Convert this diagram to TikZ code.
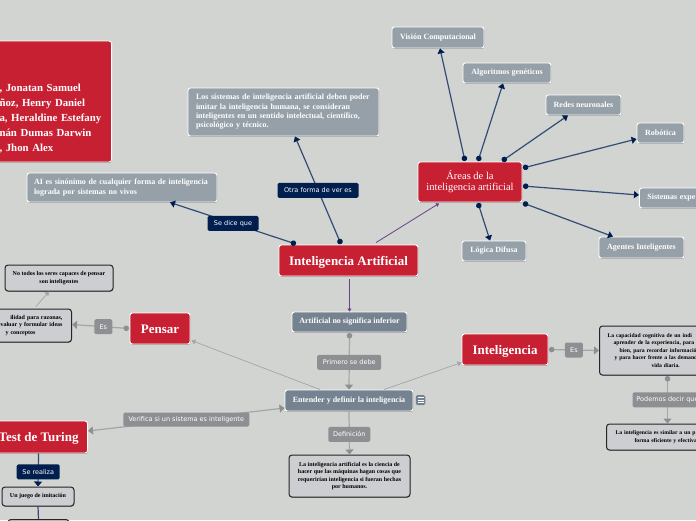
\documentclass[tikz,border=0pt]{standalone}
\usepackage{fontspec}
\setmainfont{Liberation Serif}
\newfontfamily\tagfont{DejaVu Sans}
\usetikzlibrary{arrows.meta,shadows}
\definecolor{paper}{HTML}{D2D4D1}
\definecolor{redbox}{HTML}{C82033}
\definecolor{slate}{HTML}{96A0A8}
\definecolor{slatedark}{HTML}{74838F}
\definecolor{tagnavy}{HTML}{001F4F}
\definecolor{taggrey}{HTML}{8E8F93}
\definecolor{notefill}{HTML}{CDCED1}
\definecolor{linknavy}{HTML}{334C75}
\definecolor{linkgrey}{HTML}{A3A5A6}
\definecolor{linkpurple}{HTML}{6A3F8C}
\tikzset{
  boxbase/.style={draw=white, line width=0.9pt, rounded corners=2.5pt, inner sep=0pt,
    drop shadow={shadow xshift=0.4pt, shadow yshift=-0.8pt, opacity=0.35, fill=black}},
  redmain/.style={boxbase, fill=redbox, text=white, align=center,
    font=\fontsize{13}{15}\selectfont\bfseries},
  redtitle/.style={redmain, text height=9pt, text depth=0pt},
  area/.style={boxbase, fill=slate, text=white, align=center,
    font=\fontsize{8}{9.3}\selectfont\bfseries},
  step2/.style={area, fill=slatedark},
  note/.style={draw=black!85, line width=1pt, fill=notefill, rounded corners=3pt, inner sep=0pt,
    text=black, align=center, font=\fontsize{6}{7.5}\selectfont\bfseries,
    drop shadow={shadow xshift=0.4pt, shadow yshift=-0.8pt, opacity=0.3, fill=black}},
  tag/.style={fill=tagnavy, rounded corners=1.5pt, inner sep=0pt, text=white, minimum height=15pt,
    font=\tagfont\fontsize{6.5}{8}\selectfont},
  greytag/.style={tag, fill=taggrey},
  navylink/.style={draw=linknavy, line width=1.2pt,
    arrows={Circle[length=5.5pt,width=5.5pt,color=tagnavy]-Triangle[length=5pt,width=7pt,color=tagnavy]}},
  greylink/.style={draw=linkgrey, line width=1.2pt,
    arrows={Circle[length=5.5pt,width=5.5pt,color=taggrey]-Triangle[length=5pt,width=8pt,color=taggrey]}},
  thinlink/.style={draw=linkgrey, line width=0.7pt, -{Triangle[length=4pt,width=5pt,color=linkgrey]}},
  purplelink/.style={draw=linkpurple, line width=0.8pt, -{Triangle[length=3pt,width=4pt]}},
}
\begin{document}
\begin{tikzpicture}[x=1pt, y=-1pt]
  \useasboundingbox (0,0) rectangle (696,520);
  \clip (0,0) rectangle (696,520);
  \fill[paper] (0,0) rectangle (696,520);

  \node[redtitle] (ia) at (348.5,260.5) [minimum width=139pt, minimum height=31pt] {Inteligencia Artificial};
  \node[redmain, font=\fontsize{10.5}{11}\selectfont] (areas) at (470,182) [minimum width=104pt, minimum height=40pt] {Áreas de la\\inteligencia artificial};
  \node[redmain, align=left, anchor=east, text width=102pt, inner xsep=10pt, font=\fontsize{10.8}{15}\selectfont\bfseries] (autores) at (112,101.5) [minimum height=121pt]
    {\mbox{}\\[11pt]\mbox{}\\, Jonatan Samuel\\ñoz, Henry Daniel\\a, Heraldine Estefany\\nán Dumas Darwin\\, Jhon Alex};
  \node[redtitle] (pensar) at (160,328.5) [minimum width=60pt, minimum height=31pt] {Pensar};
  \node[redtitle] (intel) at (505,349.5) [minimum width=86pt, minimum height=31pt] {Inteligencia};
  \node[redtitle, anchor=east] (turing) at (88,437) [minimum width=98pt, minimum height=32pt] {Test de Turing};

  \node[area] (vision) at (438,37.5) [minimum width=92pt, minimum height=21pt] {Visión Computacional};
  \node[area] (algo) at (507,73) [minimum width=88pt, minimum height=20pt] {Algoritmos genéticos};
  \node[area] (redes) at (583.5,105) [minimum width=75pt, minimum height=20pt] {Redes neuronales};
  \node[area] (robot) at (660.5,133) [minimum width=47pt, minimum height=20pt] {Robótica};
  \node[area, anchor=west, align=left, text width=92pt, inner xsep=8pt] (expert) at (639,198) [minimum height=20pt] {Sistemas expe};
  \node[area] (agentes) at (641.5,247.5) [minimum width=85pt, minimum height=21pt] {Agentes Inteligentes};
  \node[area] (logica) at (494,251) [minimum width=64pt, minimum height=20pt] {Lógica Difusa};
  \node[area, align=left, text width=175pt, inner xsep=8pt] (sistemas) at (283.5,112) [minimum height=48pt]
    {Los sistemas de inteligencia artificial deben poder\\imitar la inteligencia humana, se consideran\\inteligentes en un sentido intelectual, científico,\\psicológico y técnico.};
  \node[area, align=left, text width=176pt, inner xsep=7pt] (sinonimo) at (122,187.5) [minimum height=29pt]
    {AI es sinónimo de cualquier forma de inteligencia\\lograda por sistemas no vivos};

  \node[step2] (inferior) at (349.5,322) [minimum width=115pt, minimum height=20pt] {Artificial no significa inferior};
  \node[step2] (entender) at (349,400.5) [minimum width=128pt, minimum height=21pt] {Entender y definir la inteligencia};

  \node[note] (ciencia) at (349.5,476) [minimum width=121pt, minimum height=42pt]
    {La inteligencia artificial es la ciencia de\\hacer que las máquinas hagan cosas que\\requerirían inteligencia si fueran hechas\\por humanos.};
  \node[note, anchor=west, align=left, text width=128pt, inner xsep=4pt, font=\fontsize{5.7}{7.5}\selectfont\bfseries] (capacidad) at (599,350.5) [minimum height=49pt]
    {\hspace*{4pt}La capacidad cognitiva de un indi\\\hspace*{10pt}aprender de la experiencia, para\\\hspace*{16pt}bien, para recordar información i\\\hspace*{11pt}y para hacer frente a las demanda\\\hspace*{48pt}vida diaria.};
  \node[note, anchor=west, align=left, text width=114pt, inner xsep=4pt, font=\fontsize{5.7}{7.5}\selectfont\bfseries] (similar) at (606,437) [minimum height=26pt]
    {\hspace*{5pt}La inteligencia es similar a un p\\\hspace*{24pt}forma eficiente y efectiva};
  \node[note, anchor=east, align=right, text width=81pt, inner xsep=9pt] (habilidad) at (72,325.5) [minimum height=33pt]
    {ilidad para razonas,\hspace*{10pt}\\evaluar y formular ideas\\y conceptos\hspace*{27pt}};
  \node[note] (notodos) at (59,278) [minimum width=108pt, minimum height=26pt] {No todos los seres capaces de pensar\\son inteligentes};
  \node[note] (juego) at (38,496.5) [minimum width=72pt, minimum height=19pt] {Un juego de imitación};
  \node[note, anchor=north] (cierre) at (38.5,519) [minimum width=61pt, minimum height=20pt] {};

  \draw[navylink] ([xshift=-5pt,yshift=0.5pt]areas.north) -- ([xshift=2pt]vision.south);
  \draw[navylink] ([xshift=8pt,yshift=0.5pt]areas.north) -- ([xshift=-4pt]algo.south);
  \draw[navylink] ([xshift=32pt,yshift=0.5pt]areas.north) -- ([xshift=-15.5pt]redes.south);
  \draw[navylink] ([xshift=0.5pt,yshift=14pt]areas.east) -- ([yshift=-6pt]robot.west);
  \draw[navylink] ([xshift=0.5pt,yshift=-4pt]areas.east) -- ([yshift=3pt]expert.west);
  \draw[navylink] ([xshift=0.5pt,yshift=-21pt]areas.east) -- ([xshift=-28.5pt]agentes.north);
  \draw[navylink] ([xshift=8pt,yshift=-0.5pt]areas.south) -- ([xshift=-4pt]logica.north);

  \draw[navylink] ([xshift=-7.5pt,yshift=0.5pt]ia.north) -- node[tag, minimum width=81pt] (otra) {Otra forma de ver es} ([xshift=11.5pt]sistemas.south);
  \draw[navylink] ([xshift=-52.5pt,yshift=0.5pt]ia.north) -- node[tag, minimum width=51pt] (sedice) {Se dice que} ([xshift=48pt]sinonimo.south);

  \draw[purplelink] ([xshift=27.5pt,yshift=2pt]ia.north) -- ([xshift=-31pt,yshift=-1pt]areas.south);
  \draw[purplelink] ([xshift=1pt,yshift=-3pt]ia.south) -- (inferior.north);

  \draw[greylink] ([yshift=-0.5pt]inferior.south) -- node[greytag, pos=0.52, minimum width=64pt] (primero) {Primero se debe} (entender.north);
  \draw[draw=linkgrey, line width=1.2pt, -{Triangle[length=5pt,width=8pt,color=taggrey]}] (entender.south) -- node[greytag, pos=0.53, minimum width=42pt] (definicion) {Definición} (ciencia.north);

  \draw[thinlink] ([xshift=-29pt]entender.north) -- ([xshift=1pt,yshift=-12pt]pensar.east);
  \draw[thinlink] ([xshift=35pt]entender.north) -- ([yshift=-13pt]intel.west);
  \draw[draw=linkgrey, line width=1.2pt, {Triangle[length=5pt,width=8pt,color=taggrey]}-{Triangle[length=5pt,width=8pt,color=taggrey]}] ([yshift=-7.5pt]entender.west) -- node[greytag, minimum width=126pt, minimum height=14pt] (verifica) {Verifica si un sistema es inteligente} ([yshift=6pt]turing.east);

  \draw[greylink] ([xshift=-0.5pt]pensar.west) -- node[greytag, pos=0.45, minimum width=18pt] (es) {Es} ([yshift=1pt]habilidad.east);
  \draw[thinlink] ([xshift=-36pt,yshift=2pt]habilidad.north east) -- ([xshift=-10pt]notodos.south);
  \draw[greylink] ([xshift=0.5pt]intel.east) -- node[greytag, minimum width=18pt] (es2) {Es} (capacidad.west);
  \draw[greylink] ([yshift=-0.5pt]capacidad.south) -- node[greytag, minimum width=70pt] (podemos) {Podemos decir que} (similar.north);

  \draw[draw=linknavy, line width=1.2pt, -{Triangle[length=5pt,width=8pt,color=tagnavy]}] (turing.south) -- node[tag, pos=0.56, minimum width=43pt] (realiza) {Se realiza} (juego.north);
  \draw[draw=linknavy, line width=1.2pt] (juego.south) -- (cierre.north);

  \node[fill=slatedark, rounded corners=1.5pt, minimum width=9.5pt, minimum height=10pt, inner sep=0pt] (menu) at (420.5,400) {};
  \foreach \dy in {-2.2,0,2.2}
    \draw[white, line width=0.7pt] ([xshift=-3pt,yshift=\dy pt]menu.center) -- ([xshift=3pt,yshift=\dy pt]menu.center);
\end{tikzpicture}
\end{document}
